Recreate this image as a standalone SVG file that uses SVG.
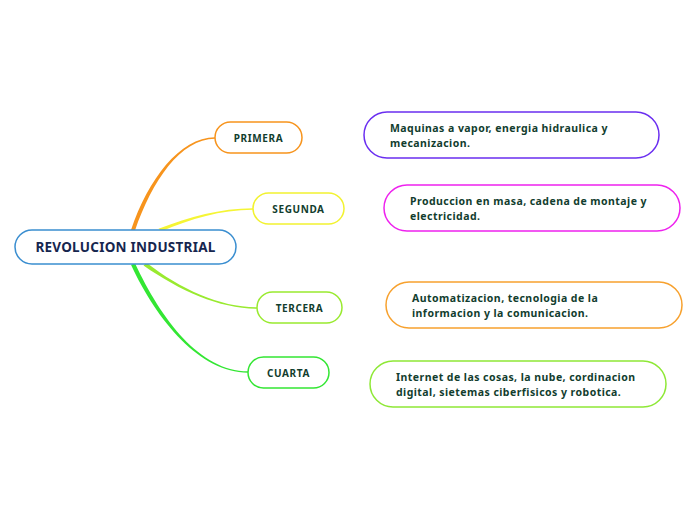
<svg xmlns="http://www.w3.org/2000/svg" width="696" height="520" viewBox="0 0 696 520">
<style>
.box{fill:#fff;stroke-width:1.5}
.lbl{font-family:"Noto Sans","Open Sans",sans-serif;font-weight:700;font-size:10px;fill:#123d2e;letter-spacing:0.6px;text-anchor:middle}
.txt{font-family:"Noto Sans","Open Sans",sans-serif;font-weight:700;font-size:10.5px;fill:#123d2e;letter-spacing:0.45px}
.main{font-family:"Noto Sans","Open Sans",sans-serif;font-weight:700;font-size:13.5px;fill:#16264f;text-anchor:middle;letter-spacing:0.25px}
</style>
<rect width="696" height="520" fill="#fff"/>
<g id="connectors">
<path d="M131,230 C148,180 179.5,137.3 215,137.3 L215,138.7 C180.5,138.7 152,181 135,230.5 Z" fill="#f7941d"/>
<path d="M158.5,228.8 C190,217 220,208.3 253,208.3 L253,209.7 C220,209.7 191,219 161.5,231.2 Z" fill="#f5f535"/>
<path d="M146.5,262.8 C181,289.5 220,307.3 257,307.3 L257,308.7 C220,308.7 180,291 143.5,265.5 Z" fill="#99ea2f"/>
<path d="M135,263.2 C161,319 200,371.3 248,371.3 L248,372.7 C200,372.7 157,321 131,264.8 Z" fill="#33e633"/>
</g>
<g id="central">
<rect class="box" x="15" y="230" width="221" height="34" rx="17" stroke="#3a8ed0"/>
<text class="main" x="125.5" y="252">REVOLUCION INDUSTRIAL</text>
</g>
<g id="primera">
<rect class="box" x="215" y="122" width="87" height="31" rx="15.5" stroke="#f7941d"/>
<text class="lbl" x="258.5" y="142">PRIMERA</text>
</g>
<g id="segunda">
<rect class="box" x="253" y="193" width="91" height="31" rx="15.5" stroke="#f2f230"/>
<text class="lbl" x="298.5" y="213">SEGUNDA</text>
</g>
<g id="tercera">
<rect class="box" x="257" y="292" width="85" height="31" rx="15.5" stroke="#99ea2f"/>
<text class="lbl" x="299.5" y="312">TERCERA</text>
</g>
<g id="cuarta">
<rect class="box" x="248" y="357" width="81" height="31" rx="15.5" stroke="#33e633"/>
<text class="lbl" x="288.5" y="377">CUARTA</text>
</g>
<g id="desc1">
<rect class="box" x="364" y="112" width="295" height="46" rx="23" stroke="#6a2ef0"/>
<text class="txt" x="390" y="132">Maquinas a vapor, energia hidraulica y</text>
<text class="txt" x="390" y="147">mecanizacion.</text>
</g>
<g id="desc2">
<rect class="box" x="384" y="185" width="296" height="46" rx="23" stroke="#ee22ee"/>
<text class="txt" x="410" y="205">Produccion en masa, cadena de montaje y</text>
<text class="txt" x="410" y="220">electricidad.</text>
</g>
<g id="desc3">
<rect class="box" x="386" y="282" width="296" height="46" rx="23" stroke="#f7a12e"/>
<text class="txt" x="412" y="302">Automatizacion, tecnologia de la</text>
<text class="txt" x="412" y="317">informacion y la comunicacion.</text>
</g>
<g id="desc4">
<rect class="box" x="370" y="361" width="296" height="46" rx="23" stroke="#8ee836"/>
<text class="txt" x="396" y="381">Internet de las cosas, la nube, cordinacion</text>
<text class="txt" x="396" y="396">digital, sietemas ciberfisicos y robotica.</text>
</g>
</svg>
